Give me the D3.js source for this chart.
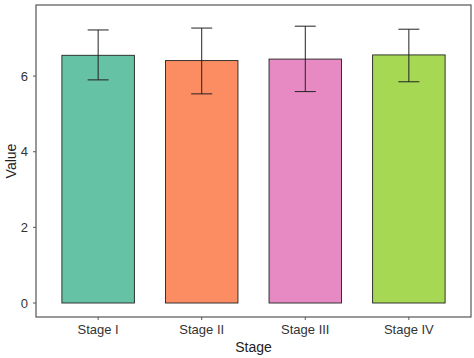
<!DOCTYPE html>
<html><head><meta charset="utf-8">
<script src="https://cdn.jsdelivr.net/npm/d3@7"></script>
<style>body{margin:0;background:#fff;}svg{display:block;font-family:"Liberation Sans",Arial,sans-serif;}</style>
</head><body>
<script>
const categories = ["Stage I","Stage II","Stage III","Stage IV"];
const values = [6.55, 6.41, 6.45, 6.56];
const lower = [5.90, 5.53, 5.59, 5.85];
const upper = [7.22, 7.27, 7.32, 7.24];
const colors = ["#66C2A5","#FC8D62","#E78AC3","#A6D854"];
const yTicks = [0,2,4,6];

const W=474,H=358;
const L=36,R=471,T=5,B=317;
const svg=d3.select("body").append("svg").attr("width",W).attr("height",H);

// discrete scale as in ggplot: positions 1..4 on [0.4, 4.6]
const xc=d3.scalePoint().domain(categories).range([0,3]);
const xl=d3.scaleLinear().domain([-0.6,3.6]).range([L,R]);
const cx=c=>xl(xc(c));
const step=xl(1)-xl(0);
const bw=step*0.7;
const y=d3.scaleLinear().domain([-0.37,7.88]).range([B,T]);

const data=categories.map((c,i)=>({c,v:values[i],lo:lower[i],hi:upper[i],col:colors[i]}));

const g=svg.append("g");
g.selectAll("rect.bar").data(data).join("rect").attr("class","bar")
 .attr("x",d=>cx(d.c)-bw/2).attr("width",bw)
 .attr("y",d=>y(d.v)).attr("height",d=>y(0)-y(d.v))
 .attr("fill",d=>d.col).attr("stroke","#222").attr("stroke-width",0.9);

const cap=21;
const eb=g.selectAll("g.eb").data(data).join("g").attr("class","eb").attr("stroke","#222").attr("stroke-width",1);
eb.append("line").attr("x1",d=>cx(d.c)).attr("x2",d=>cx(d.c)).attr("y1",d=>y(d.lo)).attr("y2",d=>y(d.hi));
eb.append("line").attr("x1",d=>cx(d.c)-cap/2).attr("x2",d=>cx(d.c)+cap/2).attr("y1",d=>y(d.lo)).attr("y2",d=>y(d.lo));
eb.append("line").attr("x1",d=>cx(d.c)-cap/2).attr("x2",d=>cx(d.c)+cap/2).attr("y1",d=>y(d.hi)).attr("y2",d=>y(d.hi));

// panel border
svg.append("rect").attr("x",L).attr("y",T).attr("width",R-L).attr("height",B-T).attr("fill","none").attr("stroke","#555").attr("stroke-width",1.2);

// y axis
const yt=svg.append("g");
yTicks.forEach(t=>{
  yt.append("line").attr("x1",L-3).attr("x2",L).attr("y1",y(t)).attr("y2",y(t)).attr("stroke","#555");
  yt.append("text").attr("x",L-8).attr("y",y(t)).attr("dy","0.36em").attr("text-anchor","end").attr("font-size",13).attr("fill","#333").text(t);
});
// x axis
categories.forEach(c=>{
  svg.append("line").attr("x1",cx(c)).attr("x2",cx(c)).attr("y1",B).attr("y2",B+3).attr("stroke","#555");
  svg.append("text").attr("x",cx(c)).attr("y",B+17).attr("text-anchor","middle").attr("font-size",13).attr("fill","#333").text(c);
});
svg.append("text").attr("x",(L+R)/2).attr("y",352).attr("text-anchor","middle").attr("font-size",14).attr("fill","#222").text("Stage");
svg.append("text").attr("transform",`translate(16,${(T+B)/2}) rotate(-90)`).attr("text-anchor","middle").attr("font-size",14).attr("fill","#222").text("Value");
</script>
</body></html>
